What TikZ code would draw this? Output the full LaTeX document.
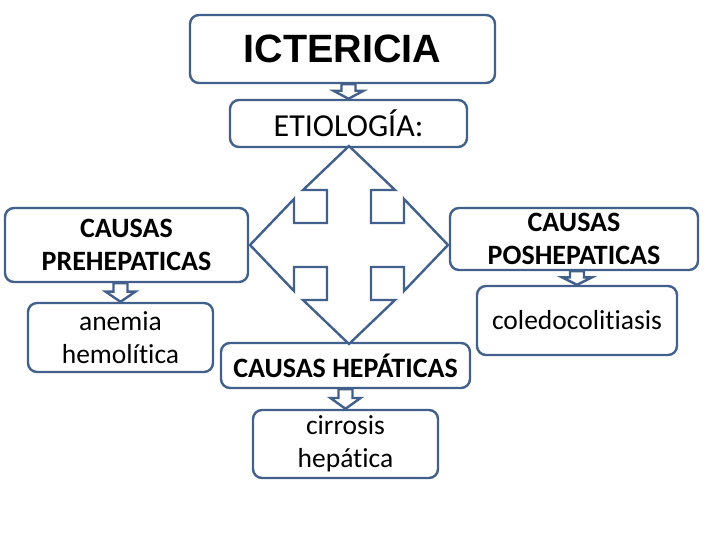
\documentclass[tikz,border=0pt]{standalone}
\usepackage{fontspec}
\setmainfont[Ligatures={NoCommon,NoDiscretionary}]{Carlito}
\newfontfamily\headfont{Liberation Sans}
\usepackage{tikz}
\usetikzlibrary{positioning,calc}
\definecolor{SlideBlue}{HTML}{41608C}
\tikzset{
  box/.style={draw=SlideBlue,line width=2.4pt,rounded corners=9pt,align=center,inner sep=2pt,fill=white},
  cause/.style={box,font=\bfseries\fontsize{28}{33}\selectfont},
  sample/.style={box,font=\fontsize{27.5}{33}\selectfont},
  blockarr/.style={draw=SlideBlue,line width=2.4pt,fill=white,line join=miter},
}
\begin{document}
\begin{tikzpicture}[x=1pt,y=-1pt]
\useasboundingbox (0,0) rectangle (720,540);
\node[box,minimum width=305pt,minimum height=68pt,font=\headfont\bfseries\fontsize{39.5}{44}\selectfont] (ict) at (342.5,49) {ICTERICIA};
\node[box,minimum width=237pt,minimum height=47pt,font=\fontsize{32}{36}\selectfont] (eti) at (348.5,123.5) {ETIOLOGÍA:};
\node[cause,minimum width=243pt,minimum height=74pt] (pre) at (126.5,245) {CAUSAS\\PREHEPATICAS};
\node[cause,minimum width=248pt,minimum height=62pt] (pos) at (574,239) {CAUSAS\\POSHEPATICAS};
\node[cause,minimum width=249pt,minimum height=45pt] (hep) at (345.5,365.5) {CAUSAS HEPÁTICAS};
\node[sample,minimum width=185pt,minimum height=69pt] (anemia) at (120.5,337.5) {anemia\\hemolítica};
\node[sample,minimum width=200pt,minimum height=69pt] (coledo) at (577,320.5) {coledocolitiasis};
\node[sample,minimum width=185pt,minimum height=68pt] (cirrosis) at (345.5,444) {cirrosis\\hepática};
% four-way arrow
\coordinate (hub) at (349,245);
\draw[blockarr,shift={(hub)}] (0,-99) -- (46,-55) -- (22,-55) -- (22,-22) -- (55,-22) -- (55,-46)
  -- (99,0) -- (55,46) -- (55,22) -- (22,22) -- (22,55) -- (46,55)
  -- (0,99) -- (-46,55) -- (-22,55) -- (-22,22) -- (-55,22) -- (-55,46)
  -- (-99,0) -- (-55,-46) -- (-55,-22) -- (-22,-22) -- (-22,-55) -- (-46,-55) -- cycle;
% small down arrows
\foreach \a/\b in {ict/eti,pre/anemia,pos/coledo,hep/cirrosis}
  \draw[blockarr] let \p1=(\a.south), \p2=(\b.north) in
    (\x2-7pt,\y1) -- (\x2-7pt,{\y1-0.45*(\y1-\y2)}) -- (\x2-15pt,{\y1-0.45*(\y1-\y2)})
    -- (\x2,\y2) -- (\x2+15pt,{\y1-0.45*(\y1-\y2)}) -- (\x2+7pt,{\y1-0.45*(\y1-\y2)})
    -- (\x2+7pt,\y1) -- cycle;
\end{tikzpicture}
\end{document}
